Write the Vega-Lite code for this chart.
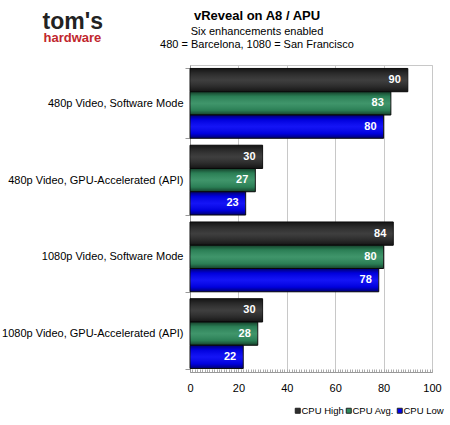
{
  "$schema": "https://vega.github.io/schema/vega-lite/v6.json",
  "width": 242,
  "height": 307,
  "autosize": {"type": "none"},
  "padding": {"left": 190, "top": 65, "right": 18, "bottom": 53},
  "background": "white",
  "config": {
    "font": "Liberation Sans",
    "view": {"stroke": "#c8c8c8"}
  },
  "title": {
    "text": "vReveal on A8 / APU",
    "subtitle": ["Six enhancements enabled", "480 = Barcelona, 1080 = San Francisco"],
    "anchor": "middle",
    "dx": -54,
    "dy": 57,
    "offset": 17,
    "fontSize": 13,
    "fontWeight": "bold",
    "color": "#000",
    "subtitleFontSize": 11,
    "subtitleColor": "#000",
    "subtitleLineHeight": 13,
    "subtitlePadding": 3
  },
  "data": {
    "values": [
      {"test": "480p Video, Software Mode", "cpu": "CPU High", "fps": 90},
      {"test": "480p Video, Software Mode", "cpu": "CPU Avg.", "fps": 83},
      {"test": "480p Video, Software Mode", "cpu": "CPU Low", "fps": 80},
      {"test": "480p Video, GPU-Accelerated (API)", "cpu": "CPU High", "fps": 30},
      {"test": "480p Video, GPU-Accelerated (API)", "cpu": "CPU Avg.", "fps": 27},
      {"test": "480p Video, GPU-Accelerated (API)", "cpu": "CPU Low", "fps": 23},
      {"test": "1080p Video, Software Mode", "cpu": "CPU High", "fps": 84},
      {"test": "1080p Video, Software Mode", "cpu": "CPU Avg.", "fps": 80},
      {"test": "1080p Video, Software Mode", "cpu": "CPU Low", "fps": 78},
      {"test": "1080p Video, GPU-Accelerated (API)", "cpu": "CPU High", "fps": 30},
      {"test": "1080p Video, GPU-Accelerated (API)", "cpu": "CPU Avg.", "fps": 28},
      {"test": "1080p Video, GPU-Accelerated (API)", "cpu": "CPU Low", "fps": 22}
    ]
  },
  "encoding": {
    "y": {
      "field": "test",
      "type": "nominal",
      "sort": null,
      "scale": {"paddingInner": 0.09, "paddingOuter": 0.045},
      "axis": {
        "title": "tom's",
        "titleX": -148,
        "titleY": -37,
        "titleAngle": 0,
        "titleAlign": "left",
        "titleBaseline": "alphabetic",
        "titleFontSize": 23,
        "titleFontWeight": "bold",
        "titleColor": "#222",
        "labelFontSize": 11,
        "labelColor": "#000",
        "labelPadding": 2,
        "labelLimit": 300,
        "tickBand": "extent",
        "tickSize": 5,
        "tickColor": "#999",
        "domainColor": "#999",
        "grid": false
      }
    },
    "yOffset": {
      "field": "cpu",
      "type": "nominal",
      "sort": ["CPU High", "CPU Avg.", "CPU Low"],
      "scale": {"paddingInner": 0, "paddingOuter": 0}
    },
    "x": {
      "field": "fps",
      "type": "quantitative",
      "scale": {"domain": [0, 100]},
      "axis": {
        "title": "hardware",
        "titleX": -147,
        "titleY": -331,
        "titleAlign": "left",
        "titleBaseline": "alphabetic",
        "titleFontSize": 13,
        "titleFontWeight": "bold",
        "titleColor": "#c1272d",
        "tickCount": 100,
        "labelExpr": "datum.value % 20 === 0 ? datum.label : ''",
        "labelOverlap": false,
        "labelFlush": false,
        "labelFontSize": 11,
        "labelColor": "#000",
        "labelPadding": 13,
        "tickSize": -3,
        "tickColor": "#aaa",
        "domainColor": "#999",
        "gridColor": "#c8c8c8",
        "gridOpacity": {"condition": {"test": "datum.value % 20 === 0", "value": 1}, "value": 0}
      }
    }
  },
  "layer": [
    {
      "mark": {"type": "bar", "stroke": "#111", "strokeWidth": 1},
      "encoding": {
        "color": {
          "field": "cpu",
          "type": "nominal",
          "scale": {
            "domain": ["CPU High", "CPU Avg.", "CPU Low"],
            "range": ["#2e2e2e", "#2f8c5e", "#0000f5"]
          },
          "legend": {
            "title": null,
            "orient": "none",
            "direction": "horizontal",
            "gridAlign": "none",
            "legendX": 103,
            "legendY": 341,
            "symbolType": "square",
            "symbolSize": 25,
            "symbolStrokeColor": "#222",
            "symbolStrokeWidth": 1,
            "symbolOpacity": 1,
            "labelFontSize": 9.5,
            "labelColor": "#000",
            "labelOffset": -1,
            "columnPadding": 0
          }
        }
      }
    },
    {
      "mark": {
        "type": "bar",
        "fill": {
          "gradient": "linear",
          "x1": 0, "y1": 0, "x2": 0, "y2": 1,
          "stops": [
            {"offset": 0, "color": "rgba(0,0,0,0.55)"},
            {"offset": 0.2, "color": "rgba(0,0,0,0.1)"},
            {"offset": 0.5, "color": "rgba(255,255,255,0.08)"},
            {"offset": 0.8, "color": "rgba(0,0,0,0.1)"},
            {"offset": 1, "color": "rgba(0,0,0,0.55)"}
          ]
        }
      }
    },
    {
      "mark": {
        "type": "text",
        "align": "right",
        "baseline": "middle",
        "dx": -7,
        "color": "white",
        "fontWeight": "bold",
        "fontSize": 11
      },
      "encoding": {
        "text": {"field": "fps", "type": "quantitative"}
      }
    }
  ]
}
